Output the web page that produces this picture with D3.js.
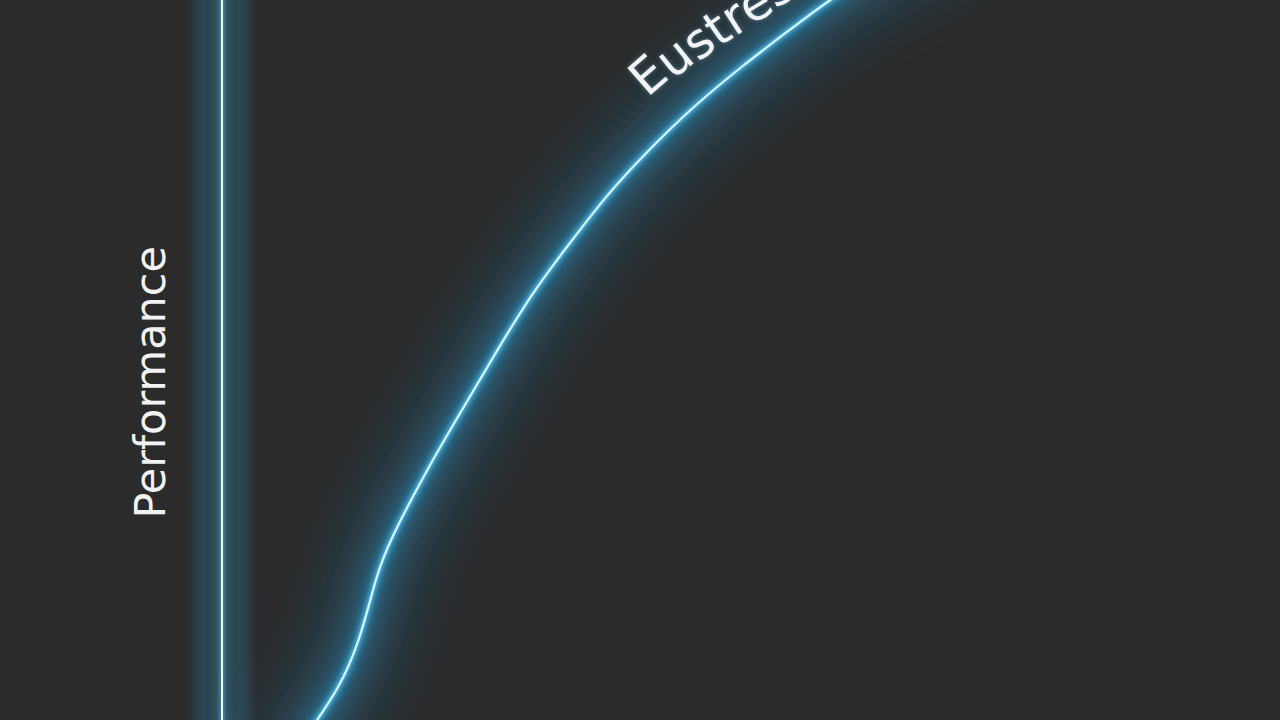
<!DOCTYPE html>
<html>
<head>
<meta charset="utf-8">
<script src="https://cdn.jsdelivr.net/npm/d3@7/dist/d3.min.js"></script>
<style>
  html, body { margin: 0; padding: 0; background: #2b2b2c; overflow: hidden; }
  svg { display: block; }
</style>
</head>
<body>
<svg id="chart" width="1280" height="720"></svg>
<script>
// Stress level (x) vs performance (y)
const stress      = [7.4, 9.0, 10.9, 12.9, 14.5, 16.2, 19.4, 22.5, 25.6, 29.1, 32.6, 36.4, 40.2, 44.5, 49.2, 53.7, 57.5, 62.2, 67.9];
const performance = [-3.9, 0.0, 4.4, 11.1, 19.2, 25.7, 34.7, 42.6, 50.3, 58.6, 65.7, 72.8, 78.9, 85.0, 90.8, 95.9, 100.0, 104.2, 108.1];
const yAxisLabel = "Performance";
const yAxisLabelAt = 46.9;            // performance value at label centre
const curveLabel = "Eustress";
const curveLabelAt = [40.2, 86.4];    // stress, performance at label start

const W = 1280, H = 720;
const svg = d3.select("#chart");
svg.append("rect").attr("width", W).attr("height", H).attr("fill", "#2b2b2c");

const x = d3.scaleLinear().domain([0, 100]).range([222, 1280]);
const y = d3.scaleLinear().domain([0, 100]).range([720, 0]);

const defs = svg.append("defs");
function blur(id, sd) {
  defs.append("filter").attr("id", id)
    .attr("filterUnits", "userSpaceOnUse")
    .attr("x", -300).attr("y", -300).attr("width", W + 600).attr("height", H + 600)
    .append("feGaussianBlur").attr("stdDeviation", sd);
}
blur("b30", 30);
blur("b14", 14);
blur("b5", 5);
blur("b2", 2);

// Y axis with glow
const axisG = svg.append("g");
const ax = x(0);
const axisLine = (w, col, op, f) => axisG.append("line")
  .attr("x1", ax).attr("x2", ax).attr("y1", y(-10)).attr("y2", y(110))
  .attr("stroke", col).attr("stroke-width", w).attr("stroke-opacity", op)
  .attr("filter", f ? `url(#${f})` : null);
axisLine(56, "#2f9cc8", 0.24, "b5");
axisLine(14, "#3aaede", 0.15, "b5");
axisLine(4, "#7fd6ff", 0.5, "b2");
axisLine(2, "#f0fbff", 1, null);

// Curve with glow
const pts = stress.map((s, i) => [s, performance[i]]);
const line = d3.line().x(d => x(d[0])).y(d => y(d[1])).curve(d3.curveNatural);
const curveG = svg.append("g");
const curvePath = (w, col, op, f) => curveG.append("path").datum(pts)
  .attr("d", line).attr("fill", "none")
  .attr("stroke", col).attr("stroke-width", w).attr("stroke-opacity", op)
  .attr("stroke-linecap", "round")
  .attr("filter", f ? `url(#${f})` : null);
curvePath(80, "#1e88bb", 0.25, "b30");
curvePath(30, "#2a9fd4", 0.35, "b14");
curvePath(8, "#30b4ea", 0.6, "b5");
curvePath(4, "#5cd0ff", 0.8, "b2");
curvePath(2.2, "#d6f6ff", 1, null);

// Y axis label
svg.append("text")
  .attr("transform", `translate(165, ${y(yAxisLabelAt)}) rotate(-90)`)
  .attr("text-anchor", "middle")
  .attr("font-family", "DejaVu Sans, sans-serif")
  .attr("font-size", 43)
  .attr("fill", "#f2f2f2")
  .text(yAxisLabel);

// Curve label (glyphs fan slightly to follow the bend of the curve)
const glyphTilt = "-6 -4 -2 0 2 4 6 8";
const lblG = svg.append("g")
  .attr("transform", `translate(${x(curveLabelAt[0])}, ${y(curveLabelAt[1])}) rotate(-35)`);
lblG.append("text")
  .attr("font-family", "DejaVu Sans, sans-serif")
  .attr("font-size", 49)
  .attr("rotate", glyphTilt)
  .attr("fill", "#7fd0f0").attr("opacity", 0.45).attr("filter", "url(#b2)")
  .text(curveLabel);
lblG.append("text")
  .attr("font-family", "DejaVu Sans, sans-serif")
  .attr("font-size", 49)
  .attr("rotate", glyphTilt)
  .attr("fill", "#f4f4f4")
  .text(curveLabel);
</script>
</body>
</html>
